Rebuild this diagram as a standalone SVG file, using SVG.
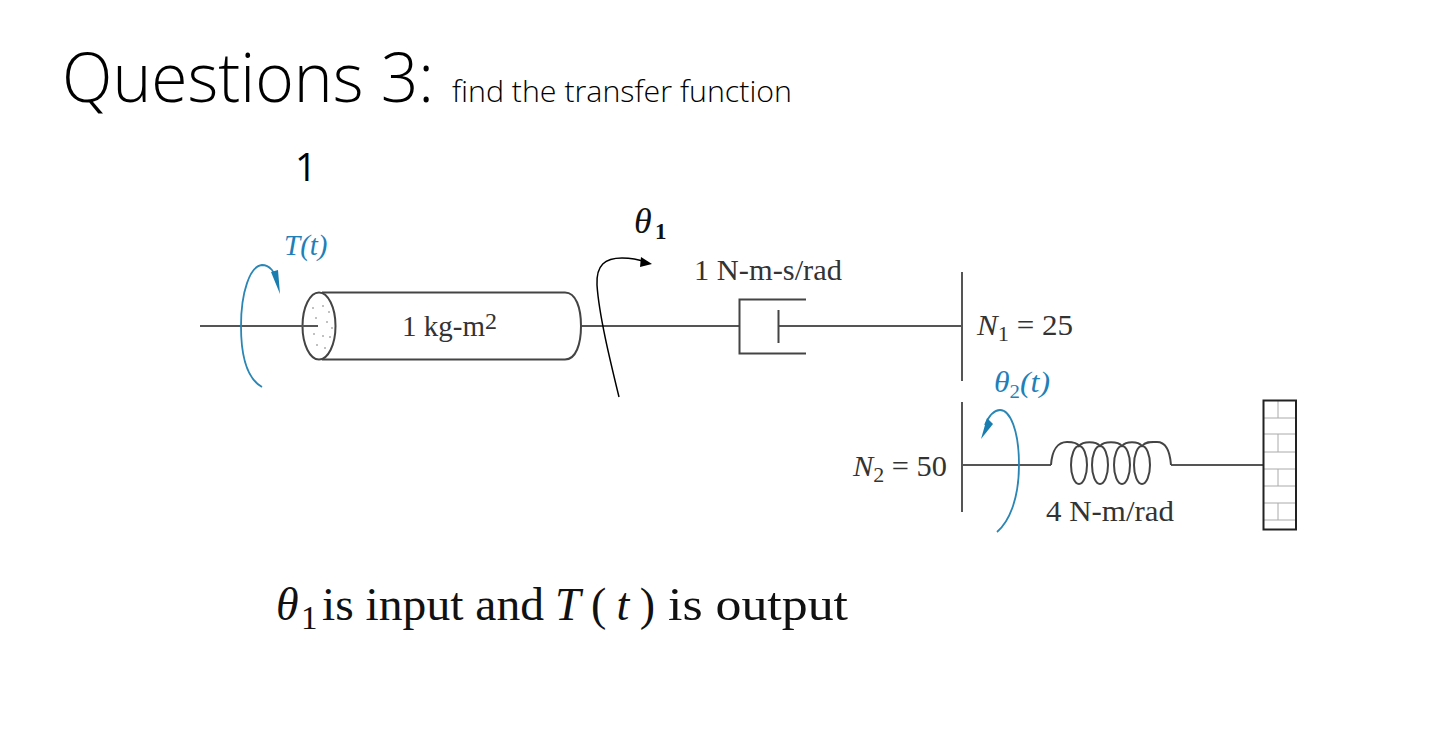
<svg xmlns="http://www.w3.org/2000/svg" width="1452" height="756" viewBox="0 0 1452 756">
<style>
.l{fill:none;stroke:#555;stroke-width:2}
.t{fill:none;stroke:#444;stroke-width:2}
.g{fill:none;stroke:#aaa;stroke-width:1}
.b{fill:none;stroke:#2a86b5;stroke-width:1.800}
.k{fill:none;stroke:#000;stroke-width:1.500}
.s{font-family:"Liberation Serif",serif;fill:#333;font-size:29px}
.bt{font-family:"Liberation Serif",serif;fill:#1f80b8;font-size:29px;font-style:italic}
.c{font-family:"Open Sans",sans-serif;fill:#000}
.m{font-family:"Liberation Serif",serif;fill:#111}
.i{font-style:italic}
</style>
<rect width="1452" height="756" fill="#fff"/>
<g id="title">
<text class="c" x="62" y="102" font-size="68" font-weight="300" textLength="372" lengthAdjust="spacingAndGlyphs">Questions 3:</text>
<text class="c" x="452" y="102" font-size="30" font-weight="300" textLength="340" lengthAdjust="spacingAndGlyphs">find the transfer function</text>
<text class="c" x="295" y="181" font-size="38" font-weight="400">1</text>
</g>
<g id="connectors">
<path class="l" d="M581 326H739M778 326H962"/>
<path class="l" d="M962 465H1051M1171 465H1263"/>
</g>
<g id="inertia">
<path class="t" d="M322 292.500H565C576 292.500 581 308 581 326C581 344 576 359.500 565 359.500H322"/>
<ellipse class="t" cx="319" cy="326" rx="16.500" ry="33.500" fill="#fff"/>
<path d="M200 326H318" class="l"/>
<g fill="#555"><circle cx="313" cy="308" r=".7"/><circle cx="323" cy="306" r=".7"/><circle cx="329" cy="312" r=".7"/><circle cx="316" cy="318" r=".7"/><circle cx="327" cy="322" r=".7"/><circle cx="332" cy="328" r=".7"/><circle cx="314" cy="334" r=".7"/><circle cx="323" cy="336" r=".7"/><circle cx="330" cy="337" r=".7"/><circle cx="317" cy="345" r=".7"/><circle cx="325" cy="348" r=".7"/><circle cx="311" cy="326" r=".7"/></g>
<text class="s" x="402" y="336">1 kg-m<tspan font-size="24" dy="-7">2</tspan></text>
</g>
<g id="torque">
<path class="b" d="M262 387C246 378 241 352 241 326C241 292 250 266 262 265C270 265 275 273 277 279"/>
<path d="M271 272L278 270L280 294Z" fill="#1a7db0"/>
<text class="bt" x="284" y="255">T(t)</text>
</g>
<g id="theta1">
<path class="k" d="M619 397C610 360 599 315 597 285C596 265 605 258 622 258C632 258 640 260 645 262"/>
<path d="M641 257L652 264L640 267Z" fill="#000"/>
<text class="m i" x="634" y="233" font-size="36">θ</text>
<text class="m" x="655" y="239" font-size="23" font-weight="700">1</text>
</g>
<g id="damper">
<path class="t" d="M806 299.500H739.500V353.500H806M778.500 310V343"/>
<text class="s" x="694" y="280" textLength="148" lengthAdjust="spacingAndGlyphs">1 N-m-s/rad</text>
</g>
<g id="gear1">
<path class="l" d="M962 272V381"/>
<text class="s" x="977" y="335" textLength="96" lengthAdjust="spacingAndGlyphs"><tspan class="i">N</tspan><tspan font-size="21" dy="6">1</tspan><tspan dy="-6"> = 25</tspan></text>
</g>
<g id="gear2">
<path class="l" d="M962 402V512"/>
<text class="s" x="853" y="476" textLength="94" lengthAdjust="spacingAndGlyphs"><tspan class="i">N</tspan><tspan font-size="21" dy="6">2</tspan><tspan dy="-6"> = 50</tspan></text>
</g>
<g id="theta2">
<path class="b" d="M997 532C1011 520 1019 495 1019 465C1019 430 1010 410 1000 410C993 410 988 418 985 425"/>
<path d="M987 418L993 424L981 439Z" fill="#1a7db0"/>
<text class="bt" x="994" y="392" font-size="27" textLength="56" lengthAdjust="spacingAndGlyphs"><tspan>θ</tspan><tspan font-size="19" font-style="normal" dy="6">2</tspan><tspan dy="-6">(t)</tspan></text>
</g>
<g id="spring">
<path class="t" d="M1051 465C1052 450 1058 442 1067 442C1074 442 1078 444 1079 446C1083 441 1096 441 1100 446C1104 441 1118 441 1122 446C1126 441 1138 441 1142 446C1146 441 1152 442 1157 442C1166 442 1170 452 1171 465"/>
<ellipse class="t" cx="1079" cy="465" rx="8" ry="19"/>
<ellipse class="t" cx="1100" cy="465" rx="8" ry="19"/>
<ellipse class="t" cx="1122" cy="465" rx="8" ry="19"/>
<ellipse class="t" cx="1142" cy="465" rx="8" ry="19"/>
<text class="s" x="1046" y="521" textLength="128" lengthAdjust="spacingAndGlyphs">4 N-m/rad</text>
</g>
<g id="wall">
<path class="g" d="M1264 418H1295M1264 434H1295M1264 452H1295M1264 469H1295M1264 486H1295M1264 503H1295M1264 520H1295"/>
<path class="g" d="M1278 400V418M1278 434V452M1278 469V486M1278 503V520"/>
<rect x="1263.500" y="400.500" width="32.500" height="129" fill="none" stroke="#222" stroke-width="2"/>
</g>
<g id="caption">
<text class="m i" x="276" y="620" font-size="46">θ</text>
<text class="m" x="301" y="629" font-size="33">1</text>
<text class="m" x="322" y="620" font-size="46" textLength="222" lengthAdjust="spacingAndGlyphs">is input and</text>
<text class="m" x="555" y="620" font-size="46" textLength="100" lengthAdjust="spacing"><tspan class="i">T</tspan>(<tspan class="i">t</tspan>)</text>
<text class="m" x="668" y="620" font-size="46" textLength="180" lengthAdjust="spacingAndGlyphs">is output</text>
</g>
</svg>
